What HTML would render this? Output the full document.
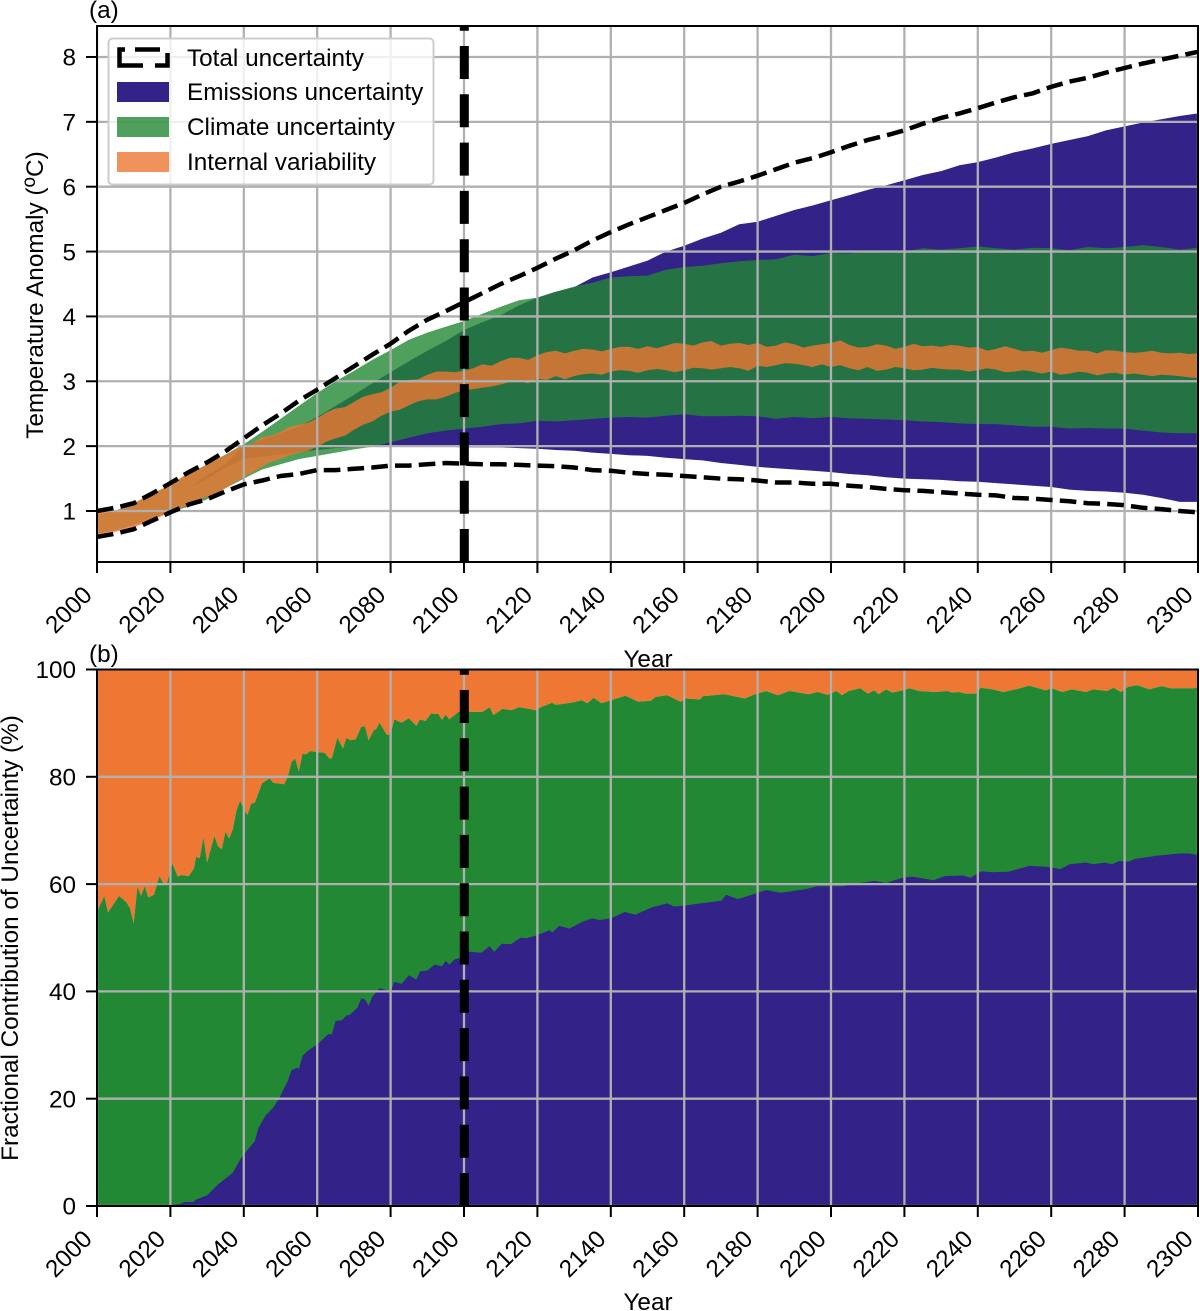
<!DOCTYPE html>
<html lang="en">
<head>
<meta charset="utf-8">
<title>Temperature anomaly uncertainty</title>
<style>
html,body{margin:0;padding:0;background:#fff;width:1200px;height:1311px;overflow:hidden}
svg{display:block}
text{font-family:"Liberation Sans",Arial,sans-serif;font-size:24.3px;fill:#000}
</style>
</head>
<body>
<svg id="chart" xmlns="http://www.w3.org/2000/svg" width="1200" height="1311" viewBox="0 0 1200 1311">
<defs>
<clipPath id="clip-a"><rect x="97" y="26" width="1101" height="536"/></clipPath>
<clipPath id="clip-b"><rect x="97" y="669.5" width="1101" height="536.5"/></clipPath>
</defs>
<text x="89" y="18">(a)</text>
<text x="648" y="667" text-anchor="middle">Year</text>
<text transform="translate(43,295) rotate(-90)" text-anchor="middle">Temperature Anomaly (<tspan font-size="19" dy="-8">o</tspan><tspan dy="8">C)</tspan></text>
<text x="89" y="662">(b)</text>
<text x="648" y="1310" text-anchor="middle">Year</text>
<text transform="translate(18,938) rotate(-90)" text-anchor="middle">Fractional Contribution of Uncertainty (%)</text>
<g id="panel-a"></g>
<g id="panel-b"></g>
<g id="legend">
<rect x="108.5" y="38.5" width="325" height="146" rx="4" fill="#fff" fill-opacity="0.8" stroke="#ccc" stroke-width="2"/>
<g fill="none" stroke="#000" stroke-width="4.5">
<path d="M143 65.5H119.5V49.5H125"/><path d="M135 49.5H160"/><path d="M155 65.5H167.5V53"/>
</g>
<text x="187" y="66">Total uncertainty</text>
<rect x="117" y="82" width="52" height="20" fill="#332288"/>
<text x="187" y="100">Emissions uncertainty</text>
<rect x="117" y="117" width="52" height="20" fill="#228833" fill-opacity="0.8"/>
<text x="187" y="135">Climate uncertainty</text>
<rect x="117" y="152" width="52" height="20" fill="#EE7733" fill-opacity="0.8"/>
<text x="187" y="170">Internal variability</text>
</g>
</svg>
<script>
// ---- Shared axis data ----
const xTickYears = [2000,2020,2040,2060,2080,2100,2120,2140,2160,2180,2200,2220,2240,2260,2280,2300];
const scenarioBreakYear = 2100;

// ---- Panel (a): temperature anomaly, starting in 2000 ----
const anomalyStartYear = 2000;
const anomalyStepYears = 5;
const internalStepYears = 2.5;
const anomalyTicks = [1,2,3,4,5,6,7,8];
const totalUpper = [1.0,1.05,1.12,1.27,1.43,1.6,1.75,1.92,2.12,2.32,2.5,2.7,2.87,3.05,3.23,3.41,3.58,3.78,3.95,4.08,4.22,4.36,4.5,4.62,4.75,4.89,5.02,5.17,5.3,5.42,5.53,5.64,5.75,5.88,6.0,6.08,6.17,6.27,6.37,6.44,6.53,6.63,6.72,6.79,6.87,6.97,7.06,7.13,7.21,7.3,7.38,7.44,7.54,7.62,7.68,7.76,7.83,7.9,7.96,8.02,8.08];
const totalLower = [0.6,0.65,0.72,0.85,0.98,1.1,1.18,1.3,1.41,1.47,1.54,1.57,1.63,1.63,1.65,1.67,1.7,1.7,1.72,1.74,1.73,1.72,1.72,1.71,1.7,1.69,1.67,1.63,1.62,1.59,1.57,1.56,1.54,1.52,1.5,1.49,1.47,1.44,1.44,1.42,1.42,1.39,1.37,1.34,1.32,1.31,1.29,1.27,1.25,1.24,1.2,1.19,1.17,1.15,1.12,1.11,1.09,1.05,1.03,1.0,0.98];
const emissionsUpper = [0.8,0.85,0.93,1.05,1.2,1.36,1.55,1.72,2.0,2.1,2.2,2.3,2.45,2.62,2.79,2.97,3.14,3.31,3.47,3.62,3.79,3.91,4.02,4.17,4.29,4.38,4.45,4.6,4.68,4.77,4.86,5.0,5.09,5.2,5.29,5.42,5.46,5.55,5.64,5.71,5.79,5.87,5.95,6.02,6.1,6.18,6.24,6.33,6.38,6.45,6.53,6.59,6.66,6.72,6.78,6.87,6.93,6.99,7.04,7.09,7.13];
const emissionsLower = [0.8,0.85,0.93,1.05,1.2,1.36,1.5,1.67,1.8,1.84,1.87,1.91,1.94,1.97,1.98,1.99,2.0,2.0,2.0,1.99,1.98,1.98,1.98,1.97,1.96,1.94,1.93,1.9,1.88,1.86,1.85,1.82,1.8,1.78,1.74,1.71,1.68,1.66,1.64,1.62,1.6,1.57,1.55,1.52,1.5,1.49,1.48,1.46,1.45,1.43,1.41,1.39,1.37,1.33,1.31,1.3,1.28,1.25,1.2,1.14,1.14];
const climateUpper = [0.95,1.0,1.12,1.27,1.4,1.57,1.72,1.87,2.03,2.22,2.42,2.62,2.82,3.0,3.16,3.33,3.48,3.64,3.75,3.84,3.93,4.04,4.15,4.25,4.29,4.38,4.46,4.52,4.6,4.62,4.63,4.72,4.76,4.78,4.82,4.85,4.87,4.88,4.95,4.93,4.98,4.97,5.0,4.98,5.0,5.05,5.03,5.05,5.08,5.05,5.03,5.06,5.05,5.02,5.07,5.05,5.07,5.1,5.07,5.03,5.06];
const climateLower = [0.65,0.7,0.78,0.88,0.98,1.07,1.18,1.35,1.5,1.64,1.72,1.8,1.85,1.9,1.95,1.99,2.06,2.13,2.2,2.24,2.27,2.3,2.34,2.35,2.39,2.38,2.4,2.42,2.44,2.45,2.44,2.47,2.49,2.46,2.46,2.47,2.46,2.42,2.45,2.43,2.45,2.43,2.42,2.41,2.4,2.38,2.37,2.35,2.34,2.34,2.32,2.3,2.3,2.27,2.28,2.27,2.27,2.24,2.21,2.2,2.2];
const internalUpper = [0.97,0.99,1.0,1.07,1.1,1.2,1.27,1.33,1.43,1.5,1.6,1.64,1.72,1.8,1.86,1.95,2.0,2.05,2.14,2.16,2.22,2.3,2.33,2.36,2.43,2.52,2.58,2.6,2.68,2.76,2.8,2.83,2.9,2.99,3.02,3.03,3.1,3.15,3.15,3.14,3.16,3.2,3.26,3.24,3.31,3.36,3.36,3.33,3.4,3.45,3.47,3.43,3.47,3.5,3.49,3.46,3.5,3.53,3.53,3.5,3.54,3.51,3.55,3.59,3.58,3.55,3.6,3.62,3.55,3.58,3.59,3.56,3.59,3.53,3.55,3.6,3.57,3.52,3.55,3.57,3.59,3.63,3.56,3.52,3.53,3.57,3.55,3.5,3.53,3.58,3.54,3.55,3.53,3.56,3.55,3.52,3.53,3.47,3.5,3.54,3.5,3.46,3.47,3.44,3.48,3.52,3.5,3.47,3.47,3.43,3.48,3.47,3.45,3.44,3.45,3.47,3.44,3.43,3.44,3.42,3.43];
const internalLower = [0.63,0.65,0.68,0.71,0.75,0.8,0.85,0.92,0.98,1.03,1.1,1.17,1.22,1.28,1.35,1.44,1.52,1.6,1.68,1.76,1.8,1.86,1.9,1.93,1.99,2.07,2.12,2.16,2.25,2.33,2.38,2.47,2.53,2.56,2.63,2.69,2.72,2.72,2.76,2.82,2.86,2.88,2.9,2.92,2.95,2.99,3.0,2.97,3.04,3.02,3.08,3.03,3.08,3.11,3.12,3.1,3.15,3.17,3.16,3.13,3.17,3.19,3.17,3.14,3.17,3.21,3.2,3.18,3.2,3.22,3.2,3.16,3.24,3.22,3.25,3.28,3.27,3.25,3.22,3.26,3.22,3.25,3.2,3.17,3.22,3.16,3.18,3.22,3.2,3.17,3.18,3.21,3.19,3.18,3.18,3.15,3.17,3.2,3.18,3.14,3.15,3.17,3.15,3.12,3.15,3.1,3.12,3.15,3.13,3.09,3.12,3.13,3.1,3.12,3.1,3.08,3.1,3.09,3.08,3.06,3.05];

// ---- Panel (b): fractional contribution (%) ----
const fractionTicks = [0,20,40,60,80,100];
const emissionsTopYears = [2000,2020,2022.6,2024,2026.2,2027,2030,2033,2037,2039.3,2043,2044,2046,2048,2049.7,2052,2053,2054.6,2055,2056,2057.6,2060,2063,2064,2065,2066.7,2068,2069,2071,2072,2073,2074,2075,2077,2080,2081,2083,2085,2087,2088,2090,2092,2094,2095,2096,2097.5,2100,2101.5,2104.7,2107,2108.2,2110.3,2112.8,2115.4,2117,2120,2123.3,2124,2126,2128.7,2132.3,2134.9,2137,2140,2143.8,2146.7,2150.9,2155.4,2157.3,2160,2164.4,2170.1,2171.4,2174.6,2179.7,2182.3,2186.2,2192.6,2196.4,2199.6,2203.4,2207.9,2211.8,2215,2219.5,2222,2224,2227.9,2231,2236,2238,2241,2243.8,2248.3,2254,2259,2262.5,2265,2269.5,2271.4,2274.6,2276.6,2278.5,2281,2283,2288.7,2295.1,2297.7,2300];
const emissionsTop = [0,0.2,0.4,0.75,0.75,1.2,2,4,6.2,9,12.1,14.6,16.9,18.3,20.2,23.3,25.3,25.8,25.5,28,29,30.1,32,32,34.5,34.6,35.5,35.7,37,38.7,38.5,37.3,39,40.6,40,41.8,41.4,43,42.2,43.7,43.9,45,44.7,45.7,45,46,46.4,47.4,47.2,48.4,47.4,48.9,48.8,50,49.9,50.5,51.4,51,52.2,51.7,53,53.6,53.3,53.6,54.8,54.3,55.6,56.4,55.8,56,56.4,56.9,58,57.2,58.3,58.9,58.4,59,59.6,59.6,59.6,60.2,60.6,60.2,61.2,61.4,61.2,60.7,61.5,61.6,61.2,62.4,62.2,62.3,63.4,63.2,62.8,63.7,64,63.7,64,63.7,64.3,64.2,64.7,65.3,65.7,65.7,65.4];
const climateTopYears = [2000,2002,2003,2006,2008,2009,2010,2011,2012,2013,2014,2015.5,2017,2018,2019,2020.5,2022,2023,2025,2026.4,2027,2028,2029,2030,2032,2033,2034,2035,2036,2037,2038,2039,2040.5,2041,2042,2043,2045,2047,2048,2051,2052,2053,2054,2055,2056,2057,2058,2060,2062,2063.4,2064,2065.5,2067,2068,2069,2070.5,2072,2073,2074,2075.5,2076,2077,2079,2080,2081,2083,2085,2087,2088,2089.5,2091,2093,2094,2095,2096,2098.5,2101.5,2105,2107,2108,2110.5,2113,2115,2117.5,2119.5,2121,2124,2125,2130,2132,2133.6,2135.3,2137.5,2139.7,2144,2147.5,2151,2152.2,2155.4,2159,2160.5,2164.4,2165,2171,2176.5,2179,2182.3,2185.5,2188.7,2193.8,2196.4,2199,2201.5,2203,2204.8,2208,2210,2211.8,2213,2215,2216.7,2219.5,2221.4,2224,2228.5,2231.7,2233,2235,2236.5,2239.5,2240.8,2244,2247,2251.5,2254,2258.5,2260.2,2263,2265.6,2269.4,2271.4,2275.2,2277,2279,2281,2283.5,2286.7,2290,2292.5,2298.9,2300];
const climateTop = [54.8,57.8,54.7,57.8,56.6,55.5,52.7,59.5,57.8,59.6,57.5,58,61.5,60.2,60,63.9,61.4,61.7,61.5,62.9,65.1,64.8,68.8,64,69,67,66.5,69.8,68.5,70.2,73.8,75.5,73.4,72.9,75,75.2,78.8,79.7,78.9,78.6,80,82.8,83.4,81,84.3,84.2,84.8,84.6,84.5,83.4,83.5,87.3,85.3,87.3,86.8,87,89.3,89.4,86.8,88.8,88.8,90.1,87.8,88,90.7,90.1,90.9,89.5,90.7,90.4,91.8,91.7,90.6,91.6,90.7,92.1,92.1,92.1,93,91.5,92.7,92.4,93,92.7,92.4,93,93.8,93.4,93.9,94.3,93.7,94.7,93.7,94.2,95.1,94,94.2,94.9,95.2,94,94.6,94.4,95,95.4,94.6,95.3,96,95.2,96,95.4,95.8,95.3,96,95.2,96,96.5,95.5,96.1,95.4,96.3,95.7,96.1,96.5,96,95.8,96,95.7,95.8,95.5,95.5,96.6,96.3,95.8,96.5,97,96.1,96.5,95.8,96.3,95.8,96.3,96,96.6,95.8,96.8,97.1,96.3,96.9,96.5,96.5,96.7];

// ---- Axis functions ----
const xLeft = 97, xRight = 1198;
function xScale(year) { return xLeft + (year - 2000) * (xRight - xLeft) / 300; }
function yA(v) { return 511 - (v - 1) * 64.86; }
function yB(v) { return 1206 - v * 5.365; }
function anomalyX(i, step) { return xScale(anomalyStartYear + i * step).toFixed(1); }

const NS = 'http://www.w3.org/2000/svg';
function make(parent, tag, attrs) {
  const el = document.createElementNS(NS, tag);
  for (const k in attrs) el.setAttribute(k, attrs[k]);
  parent.appendChild(el);
  return el;
}
function bandPath(upper, lower, step) {
  let d = '';
  upper.forEach((v, i) => { d += (i ? 'L' : 'M') + anomalyX(i, step) + ' ' + yA(v).toFixed(1); });
  for (let i = lower.length - 1; i >= 0; i--) { d += 'L' + anomalyX(i, step) + ' ' + yA(lower[i]).toFixed(1); }
  return d + 'Z';
}
function linePath(values, step) {
  let d = '';
  values.forEach((v, i) => { d += (i ? 'L' : 'M') + anomalyX(i, step) + ' ' + yA(v).toFixed(1); });
  return d;
}
function stackPath(years, values, base) {
  let d = 'M' + xScale(years[0]).toFixed(1) + ' ' + yB(base).toFixed(1);
  years.forEach((yr, i) => { d += 'L' + xScale(yr).toFixed(1) + ' ' + yB(values[i]).toFixed(1); });
  return d + 'L' + xScale(years[years.length - 1]).toFixed(1) + ' ' + yB(base).toFixed(1) + 'Z';
}

function drawAxes(g, yFn, yTicks, top, bottom, prefix) {
  const gridX = make(g, 'g', {});
  
  
  xTickYears.forEach(yr => {
    const ln = make(gridX, 'line', {x1: xScale(yr), x2: xScale(yr), y1: top, y2: bottom, stroke: '#b0b0b0', 'stroke-width': 2.3});
    
    
  });
  const gridY = make(g, 'g', {});
  
  
  yTicks.forEach(v => {
    const ln = make(gridY, 'line', {x1: xLeft, x2: xRight, y1: yFn(v), y2: yFn(v), stroke: '#b0b0b0', 'stroke-width': 2.3});
    
    
  });
}
function drawVertical(g, top, bottom, prefix) {
  const ln = make(g, 'line', {x1: xScale(scenarioBreakYear) + 0.3, x2: xScale(scenarioBreakYear) + 0.3, y1: bottom, y2: top, stroke: '#000', 'stroke-width': 9, 'stroke-dasharray': '33 15.3'});
  
  
}
function drawFrame(g, yFn, yTicks, top, bottom, prefix) {
  const frame = make(g, 'rect', {x: xLeft, y: top, width: xRight - xLeft, height: bottom - top, fill: 'none', stroke: '#000', 'stroke-width': 2});
  
  
  yTicks.forEach(v => {
    const t = make(g, 'line', {x1: xLeft - 11, x2: xLeft, y1: yFn(v), y2: yFn(v), stroke: '#000', 'stroke-width': 2});
    
    
    const lb = make(g, 'text', {x: 76, y: yFn(v) + 8.7, 'text-anchor': 'end'});
    lb.textContent = v;
    
    
  });
  xTickYears.forEach(yr => {
    const t = make(g, 'line', {x1: xScale(yr), x2: xScale(yr), y1: bottom, y2: bottom + 11, stroke: '#000', 'stroke-width': 2});
    
    
    const cx = xScale(yr) - 28.7, cy = bottom + 47.5;
    const lb = make(g, 'text', {x: 0, y: 0, dy: '0.35em', 'text-anchor': 'middle', transform: 'translate(' + cx.toFixed(1) + ',' + cy + ') rotate(-45)'});
    lb.textContent = yr;
    
    
  });
}

// ---- Panel (a) ----
const gA = document.getElementById('panel-a');
const clipA = make(gA, 'g', {'clip-path': 'url(#clip-a)'});


const emissionsBand = make(clipA, 'path', {d: bandPath(emissionsUpper, emissionsLower, anomalyStepYears), fill: '#332288'});


const climateBand = make(clipA, 'path', {d: bandPath(climateUpper, climateLower, anomalyStepYears), fill: '#228833', 'fill-opacity': 0.8});


const internalBand = make(clipA, 'path', {d: bandPath(internalUpper, internalLower, internalStepYears), fill: '#EE7733', 'fill-opacity': 0.8});


drawAxes(clipA, yA, anomalyTicks, 26, 562, 'panel-a');
const totalUp = make(clipA, 'path', {d: linePath(totalUpper, anomalyStepYears), fill: 'none', stroke: '#000', 'stroke-width': 4.5, 'stroke-dasharray': '16.6 7.2'});


const totalLow = make(clipA, 'path', {d: linePath(totalLower, anomalyStepYears), fill: 'none', stroke: '#000', 'stroke-width': 4.5, 'stroke-dasharray': '16.6 7.2'});


drawVertical(clipA, 26, 562, 'panel-a');
drawFrame(gA, yA, anomalyTicks, 26, 562, 'panel-a');

// ---- Panel (b) ----
const gB = document.getElementById('panel-b');
const clipB = make(gB, 'g', {'clip-path': 'url(#clip-b)'});


const internalArea = make(clipB, 'path', {d: stackPath(climateTopYears, climateTop, 100), fill: '#EE7733'});


const climateArea = make(clipB, 'path', {d: stackPath(climateTopYears, climateTop, 0), fill: '#228833'});


const emissionsArea = make(clipB, 'path', {d: stackPath(emissionsTopYears, emissionsTop, 0), fill: '#332288'});


drawAxes(clipB, yB, fractionTicks, 669.5, 1206, 'panel-b');
drawVertical(clipB, 669.5, 1206, 'panel-b');
drawFrame(gB, yB, fractionTicks, 669.5, 1206, 'panel-b');
</script>
</body>
</html>
